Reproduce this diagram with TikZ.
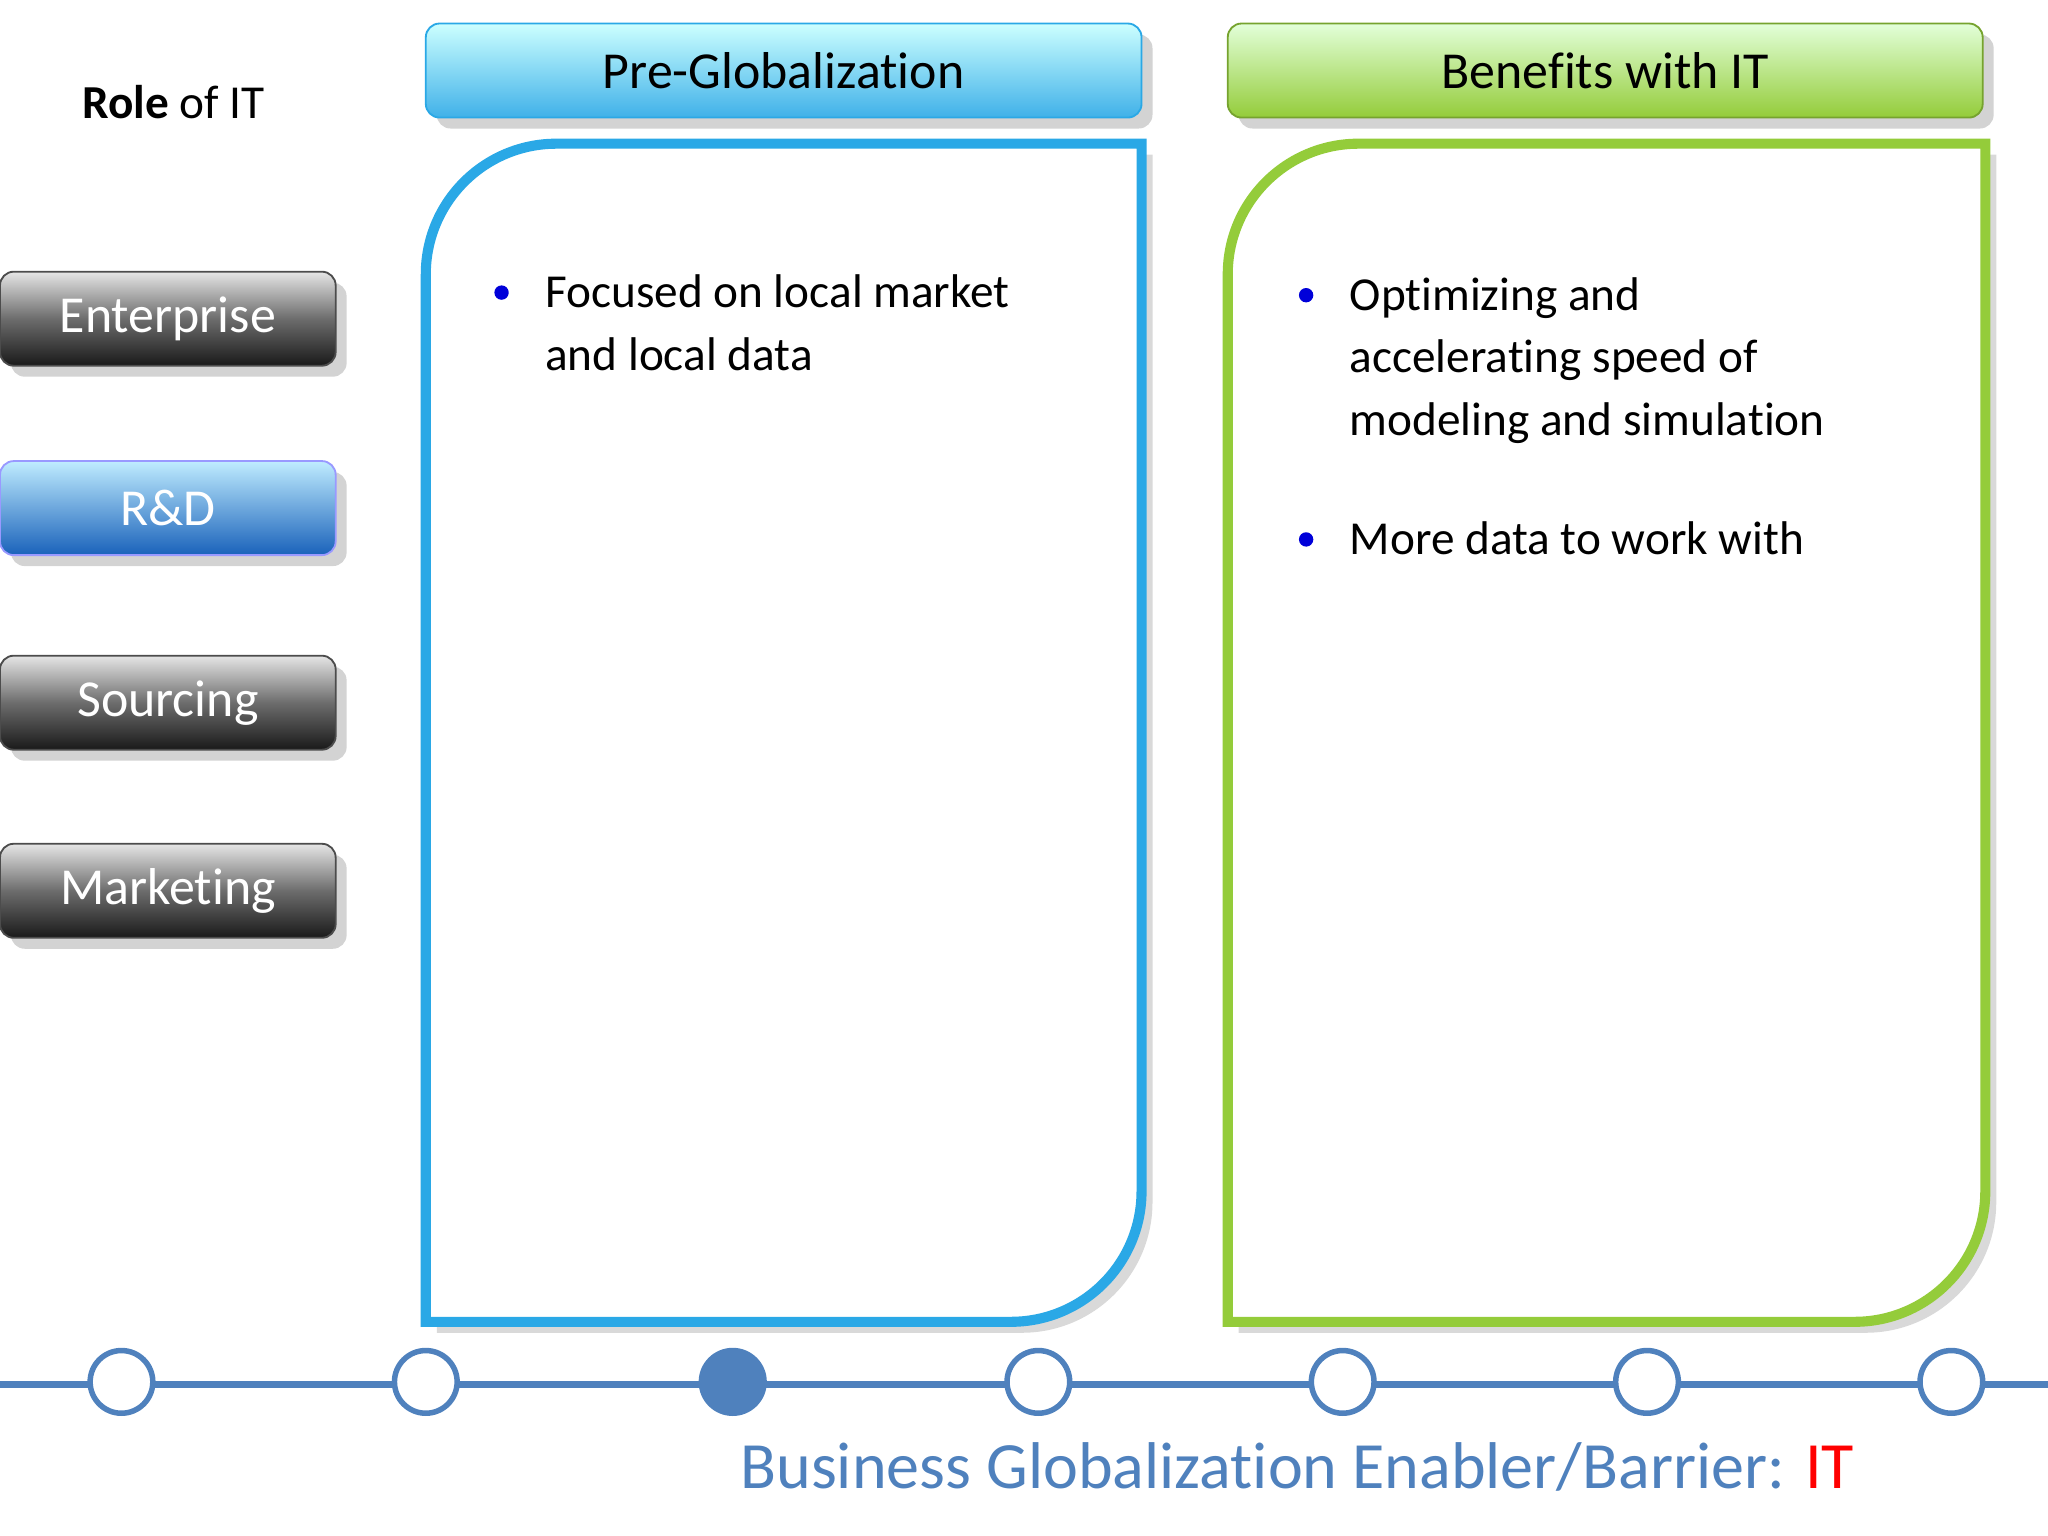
\documentclass[tikz,border=0pt]{standalone}
\usepackage{fontspec}
\setmainfont[Ligatures=NoCommon]{Carlito}
\usetikzlibrary{shadows}
\definecolor{tl}{HTML}{4F81BD}
\definecolor{pblue}{HTML}{2AA8E6}
\definecolor{pgreen}{HTML}{94CC3A}
\tikzset{
 btn/.style={rounded corners=3pt,top color=gray!20,bottom color=black!90,middle color=gray!85!black,draw=gray!60!black,drop shadow={opacity=0.35},text=white,font=\fontsize{11.3}{12}\selectfont},
 hdr/.style={rounded corners=3pt,drop shadow={opacity=0.35},font=\fontsize{11.3}{12}\selectfont},
 panel/.style={line width=2.2pt,fill=white,drop shadow={opacity=0.3}},
 dot/.style={circle,draw=tl,line width=1.2pt,fill=white,minimum size=4.8mm,inner sep=0pt},
 txt/.style={anchor=north west,align=left,font=\fontsize{10.3}{13.6}\selectfont},
 bul/.style={circle,fill=blue!85!black,inner sep=0pt,minimum size=1.1mm}
}
\begin{document}
\begin{tikzpicture}[x=0.1mm,y=-0.1mm]
\useasboundingbox (0,0) rectangle (1568,1176);
\node (role) at (133,78) {\fontsize{10.3}{12}\selectfont\textbf{Role} of IT};
\foreach \n/\y/\t in {ent/244/Enterprise,src/538/Sourcing,mkt/682/Marketing}
  \path[btn] (0,\y-36) rectangle (257,\y+36) node[midway] (\n) {\t};
\path[btn,top color=blue!30!cyan!25!white,middle color=blue!45!cyan!50!white,bottom color=blue!55!cyan!70!black!90,draw=blue!40] (0,353) rectangle (257,425) node[midway] (rd) {R\&D};
\path[hdr,top color=cyan!20,bottom color=pblue!90,draw=pblue] (326,18) rectangle (874,90) node[midway] (pre) {Pre-Globalization};
\path[hdr,top color=yellow!25!green!15,bottom color=pgreen,draw=pgreen!80!black] (940,18) rectangle (1518,90) node[midway] (ben) {Benefits with IT};
\path[panel,draw=pblue] (326,1012) -- (326,210) arc(180:270:100) -- (874,110) -- (874,912) arc(0:90:100) -- cycle;
\path[panel,draw=pgreen] (940,1012) -- (940,210) arc(180:270:100) -- (1520,110) -- (1520,912) arc(0:90:100) -- cycle;
\node[bul] (b1) at (384,224) {};
\node[txt] (t1) at (405,198) {Focused on local market\\and local data};
\node[bul] (b2) at (1000,226) {};
\node[txt] (t2) at (1021,200) {Optimizing and\\accelerating speed of\\modeling and simulation};
\node[bul] (b3) at (1000,413) {};
\node[txt] (t3) at (1021,387) {More data to work with};
\coordinate (l0) at (0,1060); \coordinate (l1) at (1568,1060);
\draw[tl,line width=1.5pt] (l0) -- (l1);
\foreach \x/\i in {93/1,326/2,795/4,1028/5,1261/6,1494/7} \node[dot] (c\i) at (\x,1058) {};
\node[dot,fill=tl] (c3) at (561,1058) {};
\node[anchor=east,text=tl,font=\fontsize{14.4}{15}\selectfont] (bot) at (1432,1123) {Business Globalization Enabler/Barrier: \textcolor{red}{IT}};
\end{tikzpicture}
\end{document}
